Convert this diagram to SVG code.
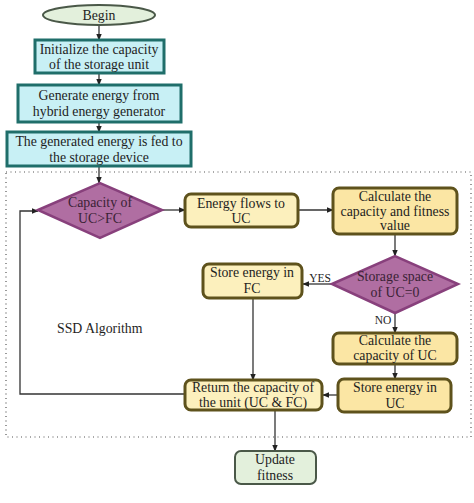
<svg xmlns="http://www.w3.org/2000/svg" width="474" height="503" viewBox="0 0 474 503" font-family="'Liberation Serif', serif">
<defs>
<style>
text{font-family:'Liberation Serif','Times New Roman',serif;font-size:13.8px;fill:#1e1e1e;text-anchor:middle}
.cy{fill:#c8f0f5;stroke:#1f6e6a;stroke-width:3}
.yl{fill:#fcf0bd;stroke:#5e521c;stroke-width:3}
.yl2{fill:#fbe6a4;stroke:#5e521c;stroke-width:3}
.gr{fill:#e3f0dc;stroke:#4a5848;stroke-width:2}
.dm{fill:#b06ea2;stroke:#88407c;stroke-width:2.5}
.dt{fill:#3a2235}
.ln{fill:none;stroke:#333;stroke-width:1.3}
.lb{font-size:11.5px}
</style>
<marker id="ar" viewBox="0 0 10 10" refX="9" refY="5" markerWidth="7" markerHeight="7" orient="auto" markerUnits="userSpaceOnUse">
<path d="M0,1 L10,5 L0,9 z" fill="#222"/>
</marker>
</defs>
<rect width="474" height="503" fill="#fff"/>
<rect id="ssd-frame" x="6" y="172" width="465" height="265" fill="none" stroke="#555" stroke-width="1.2" stroke-dasharray="1,3.5"/>
<g id="connectors">
<line class="ln" x1="99" y1="25" x2="99" y2="40" marker-end="url(#ar)"/>
<line class="ln" x1="99" y1="73" x2="99" y2="85" marker-end="url(#ar)"/>
<line class="ln" x1="99" y1="122" x2="99" y2="132" marker-end="url(#ar)"/>
<line class="ln" x1="99" y1="166" x2="99" y2="183" marker-end="url(#ar)"/>
<line class="ln" x1="162" y1="210" x2="185" y2="210" marker-end="url(#ar)"/>
<line class="ln" x1="298" y1="210" x2="333" y2="210" marker-end="url(#ar)"/>
<line class="ln" x1="395" y1="234" x2="395" y2="256" marker-end="url(#ar)"/>
<line class="ln" x1="332" y1="284" x2="303" y2="284" marker-end="url(#ar)"/>
<line class="ln" x1="253" y1="298" x2="253" y2="380" marker-end="url(#ar)"/>
<line class="ln" x1="395" y1="313" x2="395" y2="333" marker-end="url(#ar)"/>
<line class="ln" x1="395" y1="364" x2="395" y2="379" marker-end="url(#ar)"/>
<line class="ln" x1="338" y1="395" x2="323" y2="395" marker-end="url(#ar)"/>
<line class="ln" x1="275" y1="410" x2="275" y2="451" marker-end="url(#ar)"/>
<polyline class="ln" points="185,394 20,394 20,211 38,211" marker-end="url(#ar)"/>
<text class="lb" x="320" y="282">YES</text>
<text class="lb" x="383" y="324">NO</text>
</g>
<g id="begin"><ellipse class="gr" cx="99" cy="15" rx="56" ry="10"/><text x="99" y="20">Begin</text></g>
<g id="init"><rect class="cy" x="35" y="40" width="129" height="33"/><text x="99" y="54">Initialize the capacity</text><text x="99" y="69">of the storage unit</text></g>
<g id="generate"><rect class="cy" x="18" y="85" width="163" height="37"/><text x="99" y="100">Generate energy from</text><text x="99" y="116">hybrid energy generator</text></g>
<g id="fed"><rect class="cy" x="7" y="132" width="184" height="34"/><text x="99" y="146">The generated energy is fed to</text><text x="99" y="162">the storage device</text></g>
<g id="dec-ucfc"><polygon class="dm" points="38,210 100,183 162,210 100,238"/><text class="dt" x="100" y="207">Capacity of</text><text class="dt" x="100" y="223">UC&gt;FC</text></g>
<g id="flows"><rect class="yl" x="185" y="194" width="113" height="33" rx="6"/><text x="241" y="208">Energy flows to</text><text x="241" y="223">UC</text></g>
<g id="calc-fit"><rect class="yl2" x="333" y="188" width="124" height="46" rx="6"/><text x="395" y="201">Calculate the</text><text x="395" y="216">capacity and fitness</text><text x="395" y="230">value</text></g>
<g id="dec-space"><polygon class="dm" points="332,284 395,256 458,284 395,313"/><text class="dt" x="395" y="281">Storage space</text><text class="dt" x="395" y="297">of UC=0</text></g>
<g id="store-fc"><rect class="yl" x="203" y="264" width="99" height="34" rx="6"/><text x="252" y="277">Store energy in</text><text x="252" y="293">FC</text></g>
<g id="calc-uc"><rect class="yl2" x="333" y="333" width="124" height="31" rx="6"/><text x="395" y="345">Calculate the</text><text x="395" y="360">capacity of UC</text></g>
<g id="store-uc"><rect class="yl2" x="338" y="379" width="113" height="33" rx="6"/><text x="395" y="392">Store energy in</text><text x="395" y="408">UC</text></g>
<g id="return"><rect class="yl" x="185" y="380" width="137" height="30" rx="6"/><text x="253" y="392">Return the capacity of</text><text x="253" y="407">the unit (UC &amp; FC)</text></g>
<g id="update"><rect class="gr" x="235" y="451" width="81" height="33" rx="6"/><text x="275" y="464">Update</text><text x="275" y="480">fitness</text></g>
<text x="57" y="333" style="text-anchor:start">SSD Algorithm</text>
</svg>
